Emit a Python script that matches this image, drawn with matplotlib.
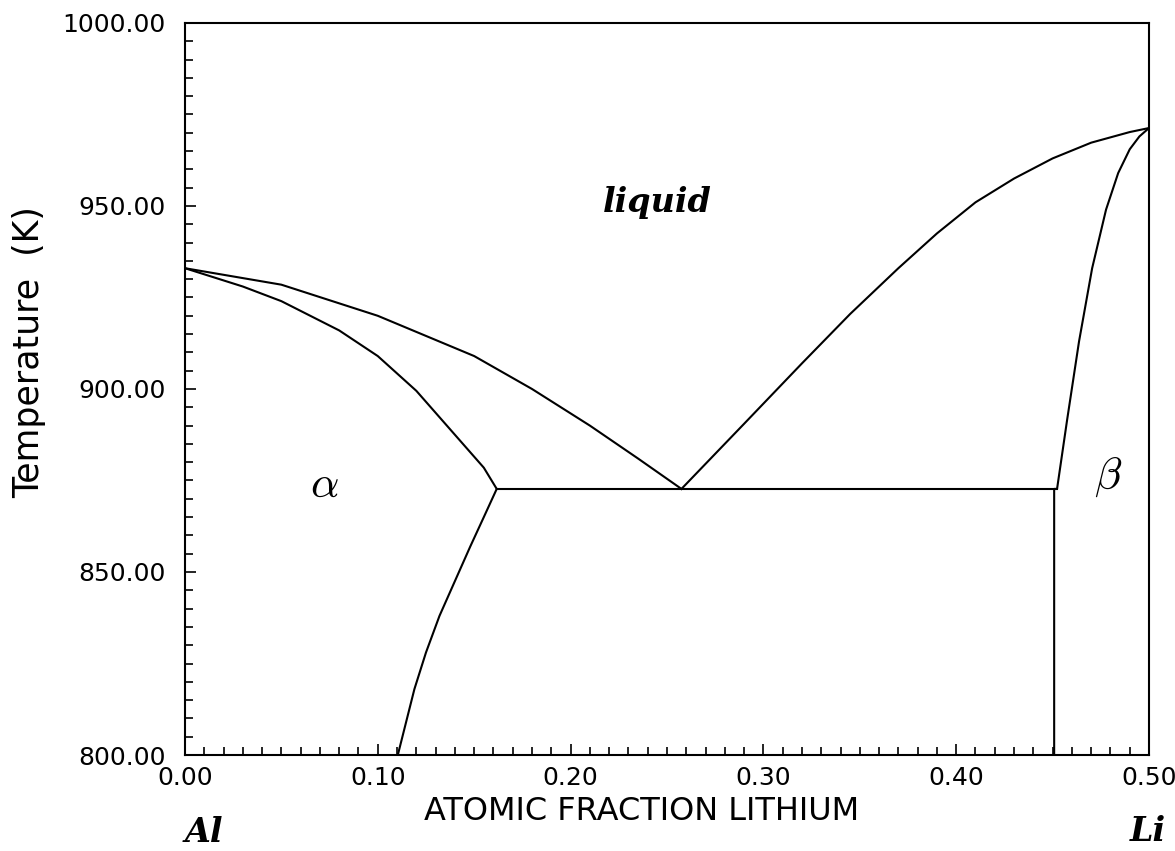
import matplotlib.pyplot as plt
from matplotlib.ticker import MultipleLocator, FormatStrFormatter

# phase boundaries, (atomic fraction Li, temperature K)
liq_al_x = [0.0, 0.05, 0.10, 0.15, 0.18, 0.21, 0.235, 0.2575]
liq_al_t = [933.0, 928.5, 920.0, 909.0, 900.0, 890.0, 881.0, 872.7]

sol_al_x = [0.0, 0.03, 0.05, 0.08, 0.10, 0.12, 0.14, 0.155, 0.1617]
sol_al_t = [933.0, 928.0, 924.0, 916.0, 909.0, 899.5, 887.5, 878.5, 872.7]

solvus_x = [0.1617, 0.155, 0.148, 0.14, 0.132, 0.125, 0.119, 0.1104]
solvus_t = [872.7, 865.0, 857.0, 847.5, 838.0, 828.0, 818.0, 800.0]

liq_li_x = [0.2575, 0.29, 0.32, 0.345, 0.37, 0.39, 0.41, 0.43, 0.45, 0.47, 0.49, 0.50]
liq_li_t = [872.7, 890.5, 907.0, 920.5, 933.0, 942.5, 951.0, 957.5, 963.0, 967.3, 970.2, 971.3]

beta_x = [0.4508, 0.4508, 0.4523, 0.4575, 0.4637, 0.4705, 0.4777, 0.484, 0.490, 0.495, 0.50]
beta_t = [800.0, 872.7, 872.7, 891.5, 913.0, 933.0, 949.0, 959.0, 965.5, 969.0, 971.3]

eut_x = [0.1617, 0.4523]
eut_t = [872.7, 872.7]

plt.figure(figsize=(11.75, 8.51), dpi=100)
ax = plt.axes([0.1574, 0.1128, 0.8205, 0.8602])

for xs, ts in [(liq_al_x, liq_al_t), (sol_al_x, sol_al_t), (solvus_x, solvus_t),
               (liq_li_x, liq_li_t), (beta_x, beta_t), (eut_x, eut_t)]:
    ax.plot(xs, ts, color='black', lw=1.5)

ax.set_xlim(0, 0.5)
ax.set_ylim(800, 1000)
ax.xaxis.set_major_locator(MultipleLocator(0.1))
ax.xaxis.set_minor_locator(MultipleLocator(0.01))
ax.yaxis.set_major_locator(MultipleLocator(50))
ax.yaxis.set_minor_locator(MultipleLocator(5))
ax.xaxis.set_major_formatter(FormatStrFormatter('%.2f'))
ax.yaxis.set_major_formatter(FormatStrFormatter('%.2f'))
ax.tick_params(which='both', direction='in', top=False, right=False,
               width=1.2, labelsize=18, colors='black')
ax.tick_params(which='major', length=8, pad=8)
ax.tick_params(which='minor', length=6)
ax.tick_params(axis='y', which='major', pad=14)
for s in ax.spines.values():
    s.set_linewidth(1.5)

ax.set_xlabel('ATOMIC FRACTION LITHIUM', fontsize=23)
ax.xaxis.set_label_coords(0.474, -0.056)
ax.set_ylabel('Temperature  (K)', fontsize=25)
ax.yaxis.set_label_coords(-0.144, 0.55)

ax.text(0.245, 951, 'liquid', family='DejaVu Serif', style='italic',
        weight='bold', fontsize=24, ha='center', va='center')
plt.rcParams['mathtext.fontset'] = 'cm'
ax.text(0.0725, 874, r'$\alpha$', fontsize=32, ha='center', va='center')
ax.text(0.479, 876, r'$\beta$', fontsize=32, ha='center', va='center')

ax.text(0.01, -0.106, 'Al', transform=ax.get_xaxis_transform(), family='DejaVu Serif',
        style='italic', weight='bold', fontsize=24, ha='center', va='center')
ax.text(0.4995, -0.104, 'Li', transform=ax.get_xaxis_transform(), family='DejaVu Serif',
        style='italic', weight='bold', fontsize=24, ha='center', va='center')

plt.savefig('out.png', dpi=100)
